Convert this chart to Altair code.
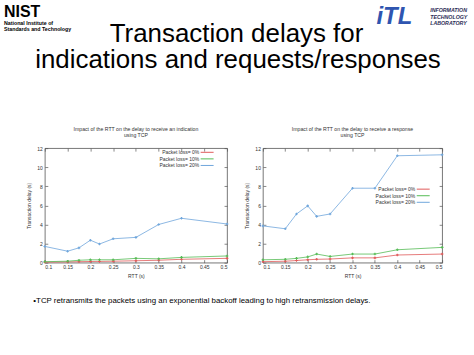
import altair as alt
import pandas as pd

# ---------------- data ----------------
rtt = [0.1, 0.15, 0.175, 0.2, 0.22, 0.25, 0.3, 0.35, 0.4, 0.5]
series = ["Packet loss= 0%", "Packet loss= 10%", "Packet loss= 20%"]
colors = ["#e05a5a", "#55bb55", "#6fa6dc"]

ind_loss0 = [0.05, 0.08, 0.1, 0.12, 0.13, 0.15, 0.2, 0.25, 0.35, 0.45]
ind_loss10 = [0.1, 0.15, 0.25, 0.3, 0.3, 0.3, 0.45, 0.4, 0.55, 0.7]
ind_loss20 = [1.7, 1.2, 1.55, 2.35, 1.95, 2.5, 2.65, 4.0, 4.65, 4.05]

resp_loss0 = [0.1, 0.15, 0.22, 0.3, 0.35, 0.38, 0.5, 0.5, 0.8, 0.9]
resp_loss10 = [0.3, 0.35, 0.45, 0.6, 0.9, 0.65, 0.9, 0.9, 1.35, 1.6]
resp_loss20 = [3.85, 3.55, 5.1, 5.95, 4.85, 5.1, 7.8, 7.8, 11.2, 11.3]

x_ticks = [0.1, 0.15, 0.2, 0.25, 0.3, 0.35, 0.4, 0.45, 0.5]
y_ticks = [0, 2, 4, 6, 8, 10, 12]

title_ind = ["Impact of the RTT on the delay to receive an indication", "using TCP"]
title_resp = ["Impact of the RTT on the delay to receive a response", "using TCP"]
x_title = "RTT (s)"
y_title = "Transaction delay (s)"

slide_title = ["Transaction delays for", "indications and requests/responses"]
nist_lines = ["NIST", "National Institute of", "Standards and Technology"]
itl_lines = ["iTL", "INFORMATION", "TECHNOLOGY", "LABORATORY"]
bullet = "\u2022TCP retransmits the packets using an exponential backoff leading to high retransmission delays."

# ---------------- helpers ----------------
GFONT = "Liberation Sans"
LEFT_X0, TOP_Y0 = 44, 147   # page position of left plot origin


def long_df(a, b, c):
    rows = []
    for s, vals in zip(series, [a, b, c]):
        for x, v in zip(rtt, vals):
            rows.append({"rtt": x, "delay": v, "series": s})
    return pd.DataFrame(rows)


one = pd.DataFrame({"k": [0]})


def text_layer(text, x, y, size, align="left", baseline="alphabetic", weight="normal",
               style="normal", color="#000000", font=GFONT):
    return alt.Chart(one).mark_text(
        align=align, baseline=baseline, fontSize=size, fontWeight=weight,
        fontStyle=style, color=color, font=font
    ).encode(x=alt.value(x), y=alt.value(y), text=alt.value(text))


def panel(df, title_lines, width, height, legend_x, legend_y, extra=None):
    xs = alt.Scale(domain=[0.1, 0.5], nice=False, zero=False)
    ys = alt.Scale(domain=[0, 12], nice=False)
    tick_axis = dict(grid=False, domain=False, tickSize=3, offset=-3,
                     tickColor="#555555", tickWidth=0.7,
                     labelFontSize=5, labelColor="#333333", labelFont=GFONT)
    title_axis = dict(titleFontSize=5, titleColor="#333333", titleFont=GFONT,
                      titleFontWeight="normal")
    lines = alt.Chart(df).mark_line(
        strokeWidth=0.8,
        point=alt.OverlayMarkDef(shape="cross", size=7, filled=True),
    ).encode(
        x=alt.X("rtt:Q", scale=xs,
                axis=alt.Axis(values=x_ticks, format="~g", title=x_title,
                              labelPadding=1.5, titlePadding=4, **tick_axis, **title_axis)),
        y=alt.Y("delay:Q", scale=ys,
                axis=alt.Axis(values=y_ticks, title=y_title,
                              labelPadding=2.5, titlePadding=5, **tick_axis, **title_axis)),
        color=alt.Color("series:N",
                        scale=alt.Scale(domain=series, range=colors),
                        legend=alt.Legend(orient="none", legendX=legend_x, legendY=legend_y,
                                          title=None, symbolType="M-2.6,0H2.6", symbolSize=25,
                                          symbolStrokeWidth=1, labelFontSize=5,
                                          labelFont=GFONT, labelColor="#333333",
                                          labelAlign="right",
                                          labelOffset=alt.ExprRef(expr="-11"),
                                          rowPadding=0.6,
                                          padding=0)),
    )
    mirror = alt.Chart(df).mark_point(opacity=0).encode(
        x=alt.X("rtt:Q", scale=xs,
                axis=alt.Axis(orient="top", values=x_ticks, labels=False, title=None, **tick_axis)),
        y=alt.Y("delay:Q", scale=ys,
                axis=alt.Axis(orient="right", values=y_ticks, labels=False, title=None, **tick_axis)),
    )
    titles = [
        text_layer(title_lines[0], width / 2, -19, 5.2, align="center", baseline="middle", color="#333333"),
        text_layer(title_lines[1], width / 2, -13, 5.2, align="center", baseline="middle", color="#333333"),
    ]
    layers = [lines, mirror] + titles + (extra or [])
    return alt.layer(*layers).resolve_axis(x="independent", y="independent").properties(
        width=width, height=height)


def px(x):
    return x - LEFT_X0


def py(y):
    return y - TOP_Y0


page_layers = [
    alt.Chart(one).mark_rule(strokeWidth=0, opacity=0).encode(
        x=alt.value(px(0)), y=alt.value(py(0)), x2=alt.value(px(474)), y2=alt.value(py(355))),
    text_layer(slide_title[0], px(236.5), py(40), 26, align="center"),
    text_layer(slide_title[1], px(238), py(67), 26, align="center"),
    text_layer(nist_lines[0], px(3), py(15), 16, weight="bold"),
    text_layer(nist_lines[1], px(3), py(23.5), 5.3, weight="bold"),
    text_layer(nist_lines[2], px(3), py(29), 5.3, weight="bold"),
    text_layer(itl_lines[0], px(377), py(22), 24, weight="bold", style="italic", color="#2f55b0"),
    text_layer(itl_lines[1], px(431), py(10), 5.3, weight="bold", style="italic", color="#2b2b55"),
    text_layer(itl_lines[2], px(431), py(17), 5.3, weight="bold", style="italic", color="#2b2b55"),
    text_layer(itl_lines[3], px(431), py(23.5), 5.3, weight="bold", style="italic", color="#2b2b55"),
    text_layer(bullet, px(32.5), py(303), 7.9),
]

left = panel(long_df(ind_loss0, ind_loss10, ind_loss20), title_ind, 183, 115,
             160, 1.2, extra=page_layers)
right = panel(long_df(resp_loss0, resp_loss10, resp_loss20), title_resp, 180, 115,
              158, 38.2)

chart = alt.hconcat(left, right, spacing=36, bounds="flush").resolve_scale(
    color="independent").resolve_legend(color="independent").properties(
    padding=0, background="white").configure_view(stroke="#555555", strokeWidth=0.8)

chart.save("out.html", embed_options={"renderer": "svg", "actions": False})
